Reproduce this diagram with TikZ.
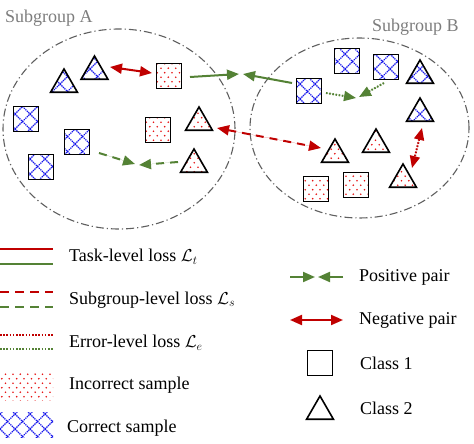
\documentclass[tikz,border=0pt]{standalone}
\usepackage{fontspec}
\setmainfont{Liberation Serif}
\usetikzlibrary{arrows.meta,patterns,shapes.geometric}

\definecolor{negred}{RGB}{192,0,0}
\definecolor{posgreen}{RGB}{84,130,53}
\definecolor{dotred}{RGB}{230,20,20}
\definecolor{crossblue}{RGB}{20,20,235}
\definecolor{ellgray}{RGB}{95,95,95}
\definecolor{txtgray}{RGB}{125,125,125}

\pgfdeclarepatternformonly{rdots}{\pgfqpoint{-1pt}{-1pt}}{\pgfqpoint{8.5pt}{10pt}}{\pgfqpoint{7.4pt}{9pt}}{%
  \pgfpathcircle{\pgfqpoint{1.85pt}{2.25pt}}{0.9pt}%
  \pgfpathcircle{\pgfqpoint{5.55pt}{6.75pt}}{0.9pt}%
  \pgfusepath{fill}}

\pgfdeclarepatternformonly{bcross}{\pgfqpoint{-0.6pt}{-0.6pt}}{\pgfqpoint{15.6pt}{15.6pt}}{\pgfqpoint{15pt}{15pt}}{%
  \pgfsetlinewidth{1.1pt}%
  \pgfsetdash{{1.3pt}{0.8pt}}{0pt}%
  \pgfpathmoveto{\pgfqpoint{0pt}{0pt}}\pgfpathlineto{\pgfqpoint{15pt}{15pt}}%
  \pgfpathmoveto{\pgfqpoint{0pt}{15pt}}\pgfpathlineto{\pgfqpoint{15pt}{0pt}}%
  \pgfusepath{stroke}}

\tikzset{
  sq/.style={draw, line width=1.6pt, minimum size=25pt, inner sep=0pt},
  tri/.style={draw, line width=1.6pt, regular polygon, regular polygon sides=3, minimum size=31pt, inner sep=0pt},
  inc/.style={pattern=rdots, pattern color=dotred},
  cor/.style={pattern=bcross, pattern color=crossblue},
  grp/.style={draw=ellgray, line width=1.1pt, ellipse, inner sep=0pt, dash pattern=on 8pt off 3pt on 1.2pt off 3pt},
  grplab/.style={text=txtgray, anchor=west, inner sep=0pt},
  lab/.style={anchor=west, inner sep=0pt},
  onetip/.style={-{Triangle[length=12pt,width=10pt]}},
  twotip/.style={{Triangle[length=12pt,width=10pt]}-{Triangle[length=12pt,width=10pt]}},
  negarr/.style={draw=negred, fill=negred, line width=2pt},
  posarr/.style={draw=posgreen, fill=posgreen, line width=2pt},
  dashedl/.style={dash pattern=on 8pt off 6pt},
  dottedl/.style={dash pattern=on 1.6pt off 1.6pt},
}

\begin{document}
\begin{tikzpicture}[x=1pt, y=-1pt, font=\fontsize{18}{21}\selectfont]
\useasboundingbox (0,0) rectangle (474,444);

% subgroups
\node[grp, minimum width=232pt, minimum height=200pt] (ga) at (119,129) {};
\node[grp, minimum width=219pt, minimum height=180pt] (gb) at (359.5,128) {};
\node[grplab] (la) at (5,18) {Subgroup A};
\node[grplab] (lb) at (372,27) {Subgroup B};

% samples, subgroup A
\node[tri, cor] (t1) at (64,84.5) {};
\node[tri, cor] (t2) at (94.5,71.5) {};
\node[sq, inc] (s1) at (169,76) {};
\node[sq, cor] (s2) at (26,119) {};
\node[sq, cor] (s3) at (77,142) {};
\node[sq, cor] (s4) at (41,167) {};
\node[sq, inc] (s5) at (158,130) {};
\node[tri, inc] (t3) at (199,122.5) {};
\node[tri, inc] (t4) at (194,164.5) {};

% samples, subgroup B
\node[sq, cor] (s6) at (347,61) {};
\node[sq, cor] (s7) at (386,67) {};
\node[tri, cor] (t5) at (420,75.5) {};
\node[sq, cor] (s8) at (309,91) {};
\node[tri, cor] (t6) at (420,113.5) {};
\node[tri, inc] (t7) at (335,154.5) {};
\node[tri, inc] (t8) at (376,144.5) {};
\node[tri, inc] (t9) at (403,179.5) {};
\node[sq, inc] (s9) at (316,189) {};
\node[sq, inc] (s10) at (356,185) {};

% connector ends
\coordinate (a1) at (110,67);  \coordinate (a2) at (152,73);
\coordinate (b1) at (190,77);  \coordinate (bm1) at (239,74);
\coordinate (b2) at (292,83);  \coordinate (bm2) at (243,74);
\coordinate (c1) at (326,93);  \coordinate (cm1) at (356,98);
\coordinate (c2) at (384,83);  \coordinate (cm2) at (359,97);
\coordinate (d1) at (217,128); \coordinate (d2) at (321,148);
\coordinate (e1) at (422,128); \coordinate (e2) at (412,168);
\coordinate (f1) at (99,153);  \coordinate (fm1) at (135,164);
\coordinate (f2) at (178,162); \coordinate (fm2) at (139,165);

% connectors
\draw[negarr, twotip] (a1) -- (a2);
\draw[posarr, onetip] (b1) -- (bm1);
\draw[posarr, onetip] (b2) -- (bm2);
\draw[posarr, onetip, dottedl] (c1) -- (cm1);
\draw[posarr, onetip, dottedl] (c2) -- (cm2);
\draw[negarr, twotip, dashedl] (d1) -- (d2);
\draw[negarr, twotip, dottedl] (e1) -- (e2);
\draw[posarr, onetip, dashedl] (f1) -- (fm1);
\draw[posarr, onetip, dashedl] (f2) -- (fm2);

% legend, left
\coordinate (l1a) at (0,249); \coordinate (l1b) at (53,249);
\coordinate (l2a) at (0,264); \coordinate (l2b) at (53,264);
\coordinate (l3a) at (0,292); \coordinate (l3b) at (53,292);
\coordinate (l4a) at (0,307); \coordinate (l4b) at (53,307);
\coordinate (l5a) at (0,335); \coordinate (l5b) at (53,335);
\coordinate (l6a) at (0,349); \coordinate (l6b) at (53,349);
\draw[negred, line width=2pt] (l1a) -- (l1b);
\draw[posgreen, line width=2pt] (l2a) -- (l2b);
\draw[negred, line width=2pt, dash pattern=on 9pt off 6pt] (l3a) -- (l3b);
\draw[posgreen, line width=2pt, dash pattern=on 9pt off 6pt] (l4a) -- (l4b);
\draw[negred, line width=1.6pt, dottedl] (l5a) -- (l5b);
\draw[posgreen, line width=1.6pt, dottedl] (l6a) -- (l6b);
\node[inc, minimum width=53pt, minimum height=29pt, inner sep=0pt, anchor=north west] (linc) at (0,371) {};
\node[cor, minimum width=53pt, minimum height=25pt, inner sep=0pt, anchor=north west] (lcor) at (0,412) {};

\node[lab] (tl1) at (69,257) {Task-level loss $\mathcal{L}_t$};
\node[lab] (tl2) at (69,300) {Subgroup-level loss $\mathcal{L}_s$};
\node[lab] (tl3) at (69,343) {Error-level loss $\mathcal{L}_e$};
\node[lab] (tl4) at (69,385) {Incorrect sample};
\node[lab] (tl5) at (67,428) {Correct sample};

% legend, right
\coordinate (p1) at (290,277); \coordinate (pm1) at (315,277);
\coordinate (p2) at (343,277); \coordinate (pm2) at (318,277);
\coordinate (n1) at (290,320); \coordinate (n2) at (343,320);
\draw[posarr, onetip] (p1) -- (pm1);
\draw[posarr, onetip] (p2) -- (pm2);
\draw[negarr, twotip] (n1) -- (n2);
\node[sq] (lsq) at (320,363) {};
\node[tri] (ltri) at (320,411.5) {};

\node[lab] (tr1) at (359,277) {Positive pair};
\node[lab] (tr2) at (359,320) {Negative pair};
\node[lab] (tr3) at (360,363) {Class 1};
\node[lab] (tr4) at (360,408) {Class 2};
\end{tikzpicture}
\end{document}
